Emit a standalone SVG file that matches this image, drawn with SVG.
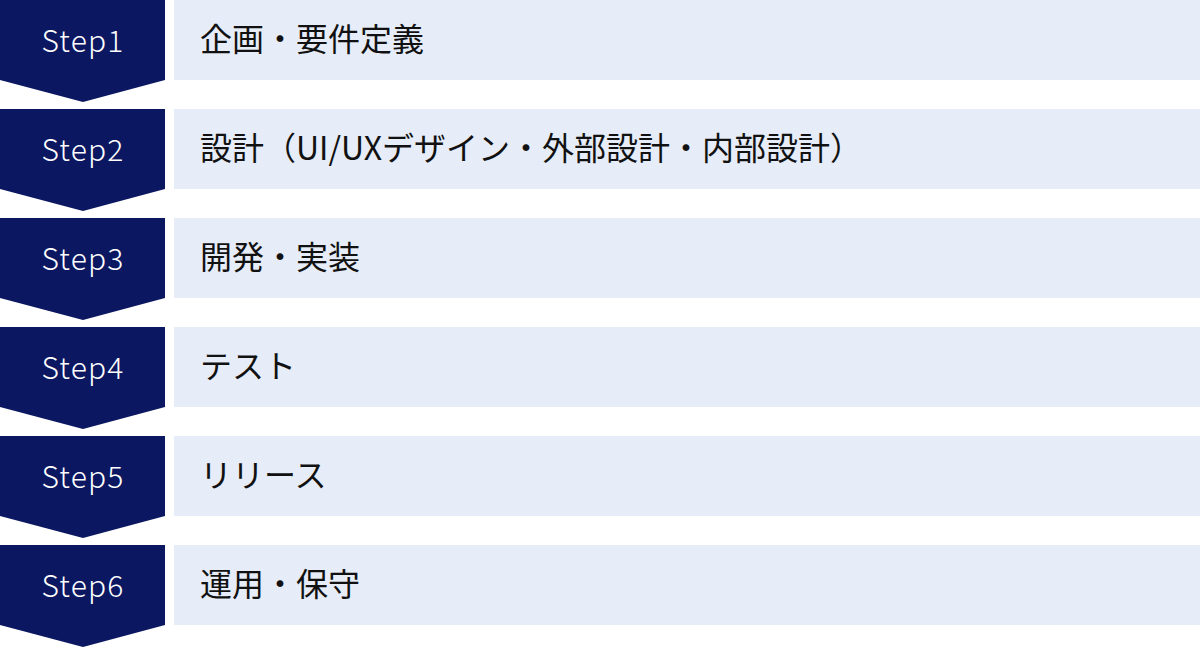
<svg xmlns="http://www.w3.org/2000/svg" width="1200" height="647" viewBox="0 0 1200 647">
<style>
.chev{fill:#0b1761}
.box{fill:#e6ecf8}
.step{font-family:"Noto Sans CJK JP","Noto Sans",sans-serif;font-size:30px;font-weight:300;fill:#ffffff;text-anchor:middle;letter-spacing:1.2px}
.lbl{font-family:"Noto Sans CJK JP","Noto Sans",sans-serif;font-size:32px;fill:#111111}
</style>
<defs>
<path id="chev" d="M0,0 H165 V80 L83,102 L0,80 Z"/>
</defs>
<rect width="1200" height="647" fill="#ffffff"/>
<g id="step1" transform="translate(0,0)">
<use href="#chev" class="chev"/><rect class="box" x="174" y="0" width="1026" height="80"/>
<text class="step" x="83" y="52">Step1</text><text class="lbl" x="200" y="51">企画・要件定義</text>
</g>
<g id="step2" transform="translate(0,109)">
<use href="#chev" class="chev"/><rect class="box" x="174" y="0" width="1026" height="80"/>
<text class="step" x="83" y="52">Step2</text><text class="lbl" x="200" y="51">設計（UI/UXデザイン・外部設計・内部設計）</text>
</g>
<g id="step3" transform="translate(0,218)">
<use href="#chev" class="chev"/><rect class="box" x="174" y="0" width="1026" height="80"/>
<text class="step" x="83" y="52">Step3</text><text class="lbl" x="200" y="51">開発・実装</text>
</g>
<g id="step4" transform="translate(0,327)">
<use href="#chev" class="chev"/><rect class="box" x="174" y="0" width="1026" height="80"/>
<text class="step" x="83" y="52">Step4</text><text class="lbl" x="200" y="51">テスト</text>
</g>
<g id="step5" transform="translate(0,436)">
<use href="#chev" class="chev"/><rect class="box" x="174" y="0" width="1026" height="80"/>
<text class="step" x="83" y="52">Step5</text><text class="lbl" x="200" y="51">リリース</text>
</g>
<g id="step6" transform="translate(0,545)">
<use href="#chev" class="chev"/><rect class="box" x="174" y="0" width="1026" height="80"/>
<text class="step" x="83" y="52">Step6</text><text class="lbl" x="200" y="51">運用・保守</text>
</g>
<g id="connectors"/>
</svg>
